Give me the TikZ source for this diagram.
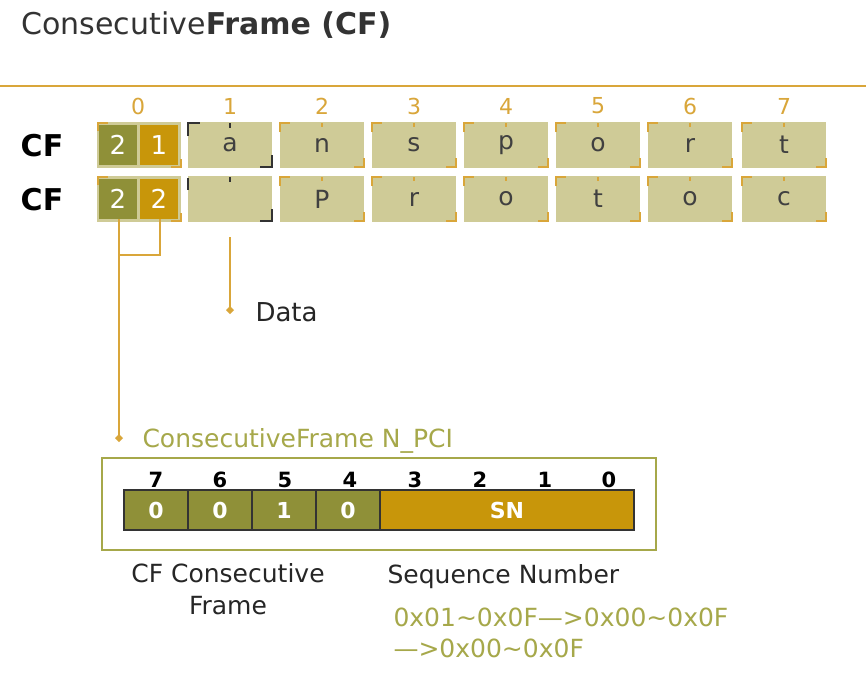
\documentclass[tikz,border=0pt]{standalone}
\usepackage{fontspec}
\setmainfont{DejaVu Sans}
\begin{document}
\definecolor{khaki}{HTML}{CFCB97}
\definecolor{olive}{HTML}{8F9038}
\definecolor{gold}{HTML}{C8960A}
\definecolor{ora}{HTML}{D9A63A}
\definecolor{otxt}{HTML}{A6A84A}
\begin{tikzpicture}[x=1pt,y=-1pt,
 cell/.style={fill=khaki,draw=none,minimum width=84pt,minimum height=46pt,inner sep=0pt,font=\fontsize{25}{28}\selectfont,text=black!75},
 sq/.style={draw=none,minimum width=38pt,minimum height=40pt,inner sep=0pt,text=white,font=\fontsize{26}{28}\selectfont},
 col/.style={text=ora,font=\fontsize{22}{24}\selectfont},
 bit/.style={draw=black!80,line width=2pt,minimum height=40pt,inner sep=0pt,text=white,font=\bfseries\fontsize{22}{24}\selectfont},
 bn/.style={font=\bfseries\fontsize{21}{23}\selectfont},
 wire/.style={ora,line width=2.5pt},
 lbl/.style={font=\fontsize{26}{32}\selectfont,text=black!85}]
\useasboundingbox (0,0) rectangle (866,683);
\fill[white] (0,0) rectangle (866,683);
\node[anchor=west,font=\fontsize{30}{34}\selectfont,text=black!80] (title) at (18,25) {Consecutive\textbf{Frame (CF)}};
\draw[ora,line width=2.5pt] (0,86) -- (866,86);
\foreach \i/\x in {0/138,1/230,2/322,3/414,4/506,5/598,6/690,7/784}
  \node[col] (c\i) at (\x,106) {\i};
\node[font=\bfseries\fontsize{30}{34}\selectfont] (cf1) at (42,146) {CF};
\node[font=\bfseries\fontsize{30}{34}\selectfont] (cf2) at (42,200) {CF};
\foreach \r/\y/\b in {1/145/1,2/199/2}{
  \node[cell,minimum width=84pt] (z\r) at (139,\y) {};
  \node[sq,fill=olive] (o\r) at (118,\y) {2};
  \node[sq,fill=gold] (g\r) at (159,\y) {\b};
  \draw[ora,line width=2.2pt] (98,\y-14) -- (98,\y-22) -- (108,\y-22);
  \draw[ora,line width=2.2pt] (181,\y+14) -- (181,\y+22) -- (171,\y+22);
}
\foreach \i/\x/\a/\b in {1/230/a/{},2/322/n/P,3/414/s/r,4/506/p/o,5/598/o/t,6/690/r/o,7/784/t/c}{
  \node[cell] (a\i) at (\x,145) {\a};
  \node[cell] (b\i) at (\x,199) {\b};
}
\foreach \i/\x in {2/322,3/414,4/506,5/598,6/690,7/784}
 \foreach \y in {145,199}{
  \draw[ora,line width=2.2pt] (\x-42,\y-13) -- (\x-42,\y-22) -- (\x-32,\y-22);
  \draw[ora,line width=2.2pt] (\x+42,\y+13) -- (\x+42,\y+22) -- (\x+32,\y+22);
  \draw[ora,line width=1.5pt] (\x,\y-22) -- (\x,\y-18);
 }
\draw[black!80,line width=2.5pt] (188,136) -- (188,123) -- (200,123);
\draw[black!80,line width=2.5pt] (272,155) -- (272,167) -- (260,167);
\draw[black!80,line width=1.8pt] (230,123) -- (230,128);
\draw[black!80,line width=2.5pt] (188,178) -- (188,190);
\draw[black!80,line width=2.5pt] (272,209) -- (272,221) -- (260,221);
\draw[black!80,line width=1.8pt] (230,177) -- (230,182);
\coordinate (dend) at (230,310);
\coordinate (pend) at (119,438);
\draw[wire] (160,219) -- (160,255) -- (119,255);
\draw[wire] (119,219) -- (pend);
\fill[ora] (pend) ++(0,-4) -- ++(4,4) -- ++(-4,4) -- ++(-4,-4) -- cycle;
\draw[wire] (230,237) -- (dend);
\fill[ora] (dend) ++(0,-4) -- ++(4,4) -- ++(-4,4) -- ++(-4,-4) -- cycle;
\node[lbl,anchor=west] (data) at (252,312) {Data};
\node[anchor=west,text=otxt,font=\fontsize{25}{30}\selectfont] (npci) at (139,441) {ConsecutiveFrame N\_PCI};
\draw[otxt,line width=2.5pt] (102,458) rectangle (656,550);
\foreach \b/\x in {7/156,6/220,5/285,4/350,3/415,2/480,1/545,0/609}
  \node[bn] (n\b) at (\x,480) {\b};
\node[bit,fill=olive,minimum width=64pt] (b7) at (156,510) {0};
\node[bit,fill=olive,minimum width=64pt] (b6) at (220,510) {0};
\node[bit,fill=olive,minimum width=64pt] (b5) at (284,510) {1};
\node[bit,fill=olive,minimum width=64pt] (b4) at (348,510) {0};
\node[bit,fill=gold,minimum width=254pt] (sn) at (507,510) {SN};
\node[lbl,align=center,font=\fontsize{25}{32}\selectfont] (cfc) at (228,589) {CF Consecutive\\Frame};
\node[lbl,anchor=west,font=\fontsize{25}{32}\selectfont] (seq) at (384,577) {Sequence Number};
\node[anchor=west,text=otxt,font=\fontsize{25}{31}\selectfont,align=left] (rng) at (390,633) {0x01\textasciitilde0x0F—>0x00\textasciitilde0x0F\\—>0x00\textasciitilde0x0F};
\end{tikzpicture}
\end{document}
